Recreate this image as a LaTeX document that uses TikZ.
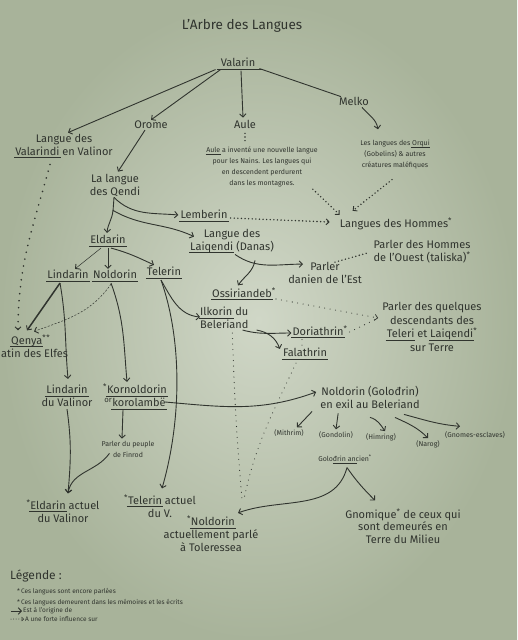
\documentclass[tikz,border=0pt]{standalone}
\usepackage{fontspec}
\setmainfont{Fira Sans}
\usetikzlibrary{arrows.meta,calc}
\definecolor{ink}{RGB}{48,52,46}
\definecolor{bgin}{RGB}{208,215,199}
\definecolor{bgout}{RGB}{168,179,154}
\newcommand\ulw[1]{\setbox0=\hbox{#1}\rlap{\kern-0.1em\vrule width\dimexpr\wd0+0.2em\relax height -0.2em depth 0.29em}\box0\relax}
\newcommand\st{\textsuperscript{*}}
\begin{document}
\begin{tikzpicture}[x=1pt,y=-1pt,
  every node/.style={text=ink, inner sep=0pt, align=center},
  big/.style={font=\fontsize{11}{13}\selectfont},
  small/.style={font=\fontsize{7}{11}\selectfont},
  tiny/.style={font=\fontsize{6.5}{8}\selectfont},
  ln/.style={draw=ink, line width=0.9pt},
  arr/.style={ln, -{Straight Barb[length=3.2pt,width=6.5pt,line width=0.9pt]}},
  thinarr/.style={arr, line width=0.5pt},
  dotsty/.style={draw=ink, line width=1.6pt, line cap=round, dash pattern=on 0pt off 3.6pt},
  dotarr/.style={dotsty, -{Straight Barb[length=3pt,width=6pt,line width=0.9pt]}},
  fdots/.style={draw=ink, line width=1.1pt, line cap=round, dash pattern=on 0pt off 5.5pt},
  fdotarr/.style={fdots, -{Straight Barb[length=3pt,width=6pt,line width=0.7pt]}},
  sdotarr/.style={draw=ink, line width=1.8pt, line cap=round, dash pattern=on 0pt off 7pt, -{Straight Barb[length=3pt,width=6pt,line width=0.9pt]}},
  dasharr/.style={arr, line width=0.5pt, dash pattern=on 2pt off 1.6pt}
]
\useasboundingbox (0,0) rectangle (517,640);
\fill[inner color=bgin, outer color=bgout] (0,0) rectangle (517,640);

% nodes
\node[font=\fontsize{13.5}{15}\selectfont] (title) at (242,26) {L’Arbre des Langues};
\node[big] (val) at (238,62) {Valarin};
\node[big] (mel) at (354,101) {Melko};
\node[big] (oro) at (151,125) {Orome};
\node[big] (aul) at (245,124) {Aule};
\node[big] (vala) at (64,146) {Langue des\\\ulw{Valarindi} en Valinor};
\node[big] (qen) at (115,185) {La langue\\des Qendi};
\node[small] (aulen) at (262,167) {\ulw{Aule} a inventé une nouvelle langue\\pour les Nains. Les langues qui\\en descendent perdurent\\dans les montagnes.};
\node[small] (orq) at (395,155) {Les langues des \ulw{Orqui}\\(Gobelins) \& autres\\créatures maléfiques};
\node[big] (lem) at (204,216) {\ulw{Lemberin}};
\node[big] (hom) at (396,224) {Langues des Hommes\st};
\node[big] (laiq) at (232,241) {Langue des\\\ulw{Laiqendi} (Danas)};
\node[big] (eld) at (108,241) {\ulw{Eldarin}};
\node[big] (tal) at (422,252) {Parler des Hommes\\de l’Ouest (taliska)\st};
\node[big] (dan) at (325,273) {Parler\\danien de l’Est};
\node[big] (lin) at (68,276) {\ulw{Lindarin}};
\node[big] (nol) at (115,276) {\ulw{Noldorin}};
\node[big] (tel) at (164,273) {\ulw{Telerin}};
\node[big] (oss) at (244,294) {\ulw{Ossiriandeb}\st};
\node[big, anchor=west, align=left] (ilk) at (200,318) {\ulw{Ilkorin} du\\Beleriand};
\node[font=\fontsize{11}{13.5}\selectfont] (desc) at (432,327) {Parler des quelques\\descendants des\\\ulw{Teleri} et \ulw{Laiqendi}\st\\sur Terre};
\node[big] (dor) at (320,332) {\ulw{Doriathrin}\st};
\node[big] (fal) at (305,354) {\ulw{Falathrin}};
\node[big, anchor=west, align=left] (qny) at (1,346) {\hspace{10pt}\ulw{Qenya}\st\st\\atin des Elfes};
\node[big] (lind2) at (67,396) {\ulw{Lindarin}\\du Valinor};
\node[big] (korn) at (135,397) {\st\ulw{Kornoldorin}\\\textsuperscript{or}\ulw{korolambë}};
\node[big] (nex) at (370,397) {Noldorin (Golođrin)\\en exil au Beleriand};
\node[small] (mit) at (289,433) {(Mithrim)};
\node[small] (gon) at (336,435) {(Gondolin)};
\node[small] (him) at (381,437) {(Himring)};
\node[small] (nar) at (428,444) {(Narog)};
\node[small] (gne) at (475,435) {(Gnomes-esclaves)};
\node[small] (fin) at (128,449) {Parler du peuple\\de Finrod};
\node[small] (gola) at (345,458) {Golođrin ancien\st};
\node[big] (eldv) at (63,511) {\st\ulw{Eldarin} actuel\\du Valinor};
\node[big] (telv) at (160,506) {\st\ulw{Telerin} actuel\\du V.};
\node[big] (nolt) at (211,534) {\st\ulw{Noldorin}\\actuellement parlé\\à Toleressea};
\node[font=\fontsize{11}{12.5}\selectfont] (gno) at (403,526) {Gnomique\st{} de ceux qui\\sont demeurés en\\Terre du Milieu};

% legend
\node[font=\fontsize{12}{14}\selectfont, anchor=west] (leg) at (10,576) {Légende :};
\node[tiny, anchor=west] (lg1) at (17,592) {*\,Ces langues sont encore parlées};
\node[tiny, anchor=west] (lg2) at (17,603) {*\,Ces langues demeurent dans les mémoires et les écrits};
\node[tiny, anchor=west] (lg3) at (23,611) {Est à l’origine de};
\node[tiny, anchor=west] (lg4) at (25,619) {A une forte influence sur};
\coordinate (lg3a) at (11,611);
\coordinate (lg4a) at (11,619);
\draw[arr, line width=0.6pt] (lg3a) -- ($(lg3.west)+(-1,0)$);
\draw[draw=ink, line width=1pt, line cap=round, dash pattern=on 0pt off 2.6pt, -{Straight Barb[length=2pt,width=4pt,line width=0.6pt]}] (lg4a) -- ($(lg4.west)+(-1,0)$);

% underlines drawn by hand
\draw[ln] ($(val.south west)+(-4,3)$) -- ($(val.south east)+(8,3)$);
\draw[ln, line width=0.8pt] ($(gola.south)+(-12,2)$) -- ($(gola.south)+(12,2)$);

% connectors
\draw[arr] ($(val.south west)+(-5,3)$) -- ($(vala.north)+(4,-1)$);
\draw[arr] ($(val.south west)+(0,3)$) -- ($(oro.north)+(0,-1)$);
\draw[arr] ($(val.south)+(3,4)$) -- ($(aul.north)+(-2,-2)$);
\draw[ln] ($(val.south east)+(4,2)$) -- ($(mel.north west)+(2,0)$);
\draw[arr] ($(mel.south east)+(-7,2)$) to[out=-50,in=100] ($(orq.north)+(-17,-11)$);
\draw[arr] ($(oro.south)+(-6,1)$) -- ($(qen.north)+(3,-2)$);
\draw[dotsty] ($(aul.south)+(0,5)$) -- ($(aul.south)+(0,13)$);
\draw[dotarr] ($(aulen.south east)+(-5,2)$) -- ($(hom.north west)+(0,-3)$);
\draw[dotarr] ($(orq.south)+(-3,10)$) -- ($(hom.north west)+(13,-7)$);
\draw[sdotarr] ($(vala.south)+(-14,6)$) to[out=-105,in=90] ($(qny.north west)+(17,-4)$);

\draw[ln] ($(qen.south)+(-1,1)$) -- ($(qen.south)+(-2,15)$);
\draw[arr] ($(qen.south)+(-1,1)$) to[out=-45,in=175] ($(lem.west)+(-2,-1)$);
\draw[arr] ($(qen.south)+(-2,14)$) to[out=-30,in=155] ($(laiq.north west)+(4,8)$);
\draw[arr] ($(qen.south)+(-2,14)$) to[out=-95,in=85] ($(eld.north)+(-1,-2)$);
\draw[dotarr] ($(lem.east)+(3,2)$) -- ($(hom.west)+(-10,-2)$);

\draw[thinarr] ($(eld.south)+(-7,1)$) -- ($(lin.north)+(7,-1)$);
\draw[arr] ($(eld.south)+(0,1)$) -- ($(nol.north)+(-7,-1)$);
\draw[arr] ($(eld.south)+(3,1)$) to[out=-15,in=155] ($(tel.north)+(-10,-2)$);

\draw[arr] ($(laiq.south)+(3,1)$) to[out=-35,in=180] ($(dan.north)+(-22,2)$);
\draw[arr] ($(laiq.south)+(23,7)$) to[out=-100,in=55] ($(oss.north)+(-6,-2)$);
\draw[dotsty] ($(dan.north)+(10,0)$) -- ($(tal.west)+(-6,1)$);
\draw[fdotarr] ($(oss.east)+(0,5)$) -- ($(desc.west)+(-4,-9)$);
\draw[fdots] ($(dor.east)+(2,0)$) -- ($(desc.west)+(-6,-8)$);

\draw[arr] ($(tel.south)+(-3,1)$) to[out=-60,in=175] ($(ilk.west)+(0,-1)$);
\draw[arr] ($(ilk.south east)+(-6,1)$) to[out=-15,in=180] ($(dor.west)+(-1,1)$);
\draw[arr] ($(ilk.south east)+(8,1)$) to[out=-10,in=110] ($(fal.north west)+(-3,1)$);
\draw[fdots] ($(dor.south)+(-18,1)$) -- ($(fal.north)+(-3,-1)$);
\draw[fdots] ($(ilk.south)+(8,4)$) to[out=-88,in=95] ($(nolt.north)+(31,-17)$);
\draw[fdots] ($(fal.south)+(-9,3)$) to[out=-115,in=78] ($(nolt.north)+(33,-17)$);

\draw[arr, line width=1.5pt] ($(lin.south)+(-8,1)$) -- ($(qny.north west)+(26,-4)$);
\draw[arr] ($(lin.south)+(-8,1)$) to[out=-80,in=95] ($(lind2.north)+(1,-6)$);
\draw[dasharr] ($(nol.south)+(-4,2)$) to[out=-125,in=20] ($(qny.north west)+(33,-3)$);
\draw[arr] ($(nol.south)+(-4,1)$) to[out=-70,in=95] ($(korn.north)+(-8,-2)$);
\draw[arr] ($(tel.south)+(-3,1)$) .. controls ($(tel.south)+(18,60)$) and ($(tel.south)+(18,140)$) .. ($(telv.north)+(2,-6)$);

\draw[arr] ($(korn.east)+(-2,5)$) to[out=-5,in=200] ($(nex.west)+(-4,-5)$);
\draw[arr] ($(korn.south)+(-12,0)$) -- ($(fin.north)+(-6,-2)$);
\draw[arr] ($(fin.south west)+(8,-4)$) to[out=-125,in=80] ($(eldv.north)+(5,-6)$);
\draw[arr] ($(lind2.south)+(0,2)$) to[out=-82,in=85] ($(eldv.north)+(5,-6)$);

\draw[arr] ($(nex.south west)+(-8,3)$) -- ($(mit.north)+(8,-2)$);
\draw[arr] ($(nex.south west)+(18,5)$) -- ($(gon.north)+(0,-2)$);
\draw[arr] ($(nex.south)+(0,9)$) to[out=-15,in=125] ($(him.north)+(4,-2)$);
\draw[arr] ($(nex.south)+(25,9)$) to[out=-25,in=135] ($(nar.north)+(0,-2)$);
\draw[arr] ($(nex.south)+(34,6)$) to[out=-15,in=175] ($(gne.north)+(-15,-5)$);

\draw[arr] ($(gola.south)+(2,6)$) to[out=-105,in=20] ($(nolt.north)+(27,-3)$);
\draw[arr] ($(gola.south)+(2,6)$) to[out=-55,in=135] ($(gno.north)+(-28,-8)$);
\end{tikzpicture}
\end{document}
